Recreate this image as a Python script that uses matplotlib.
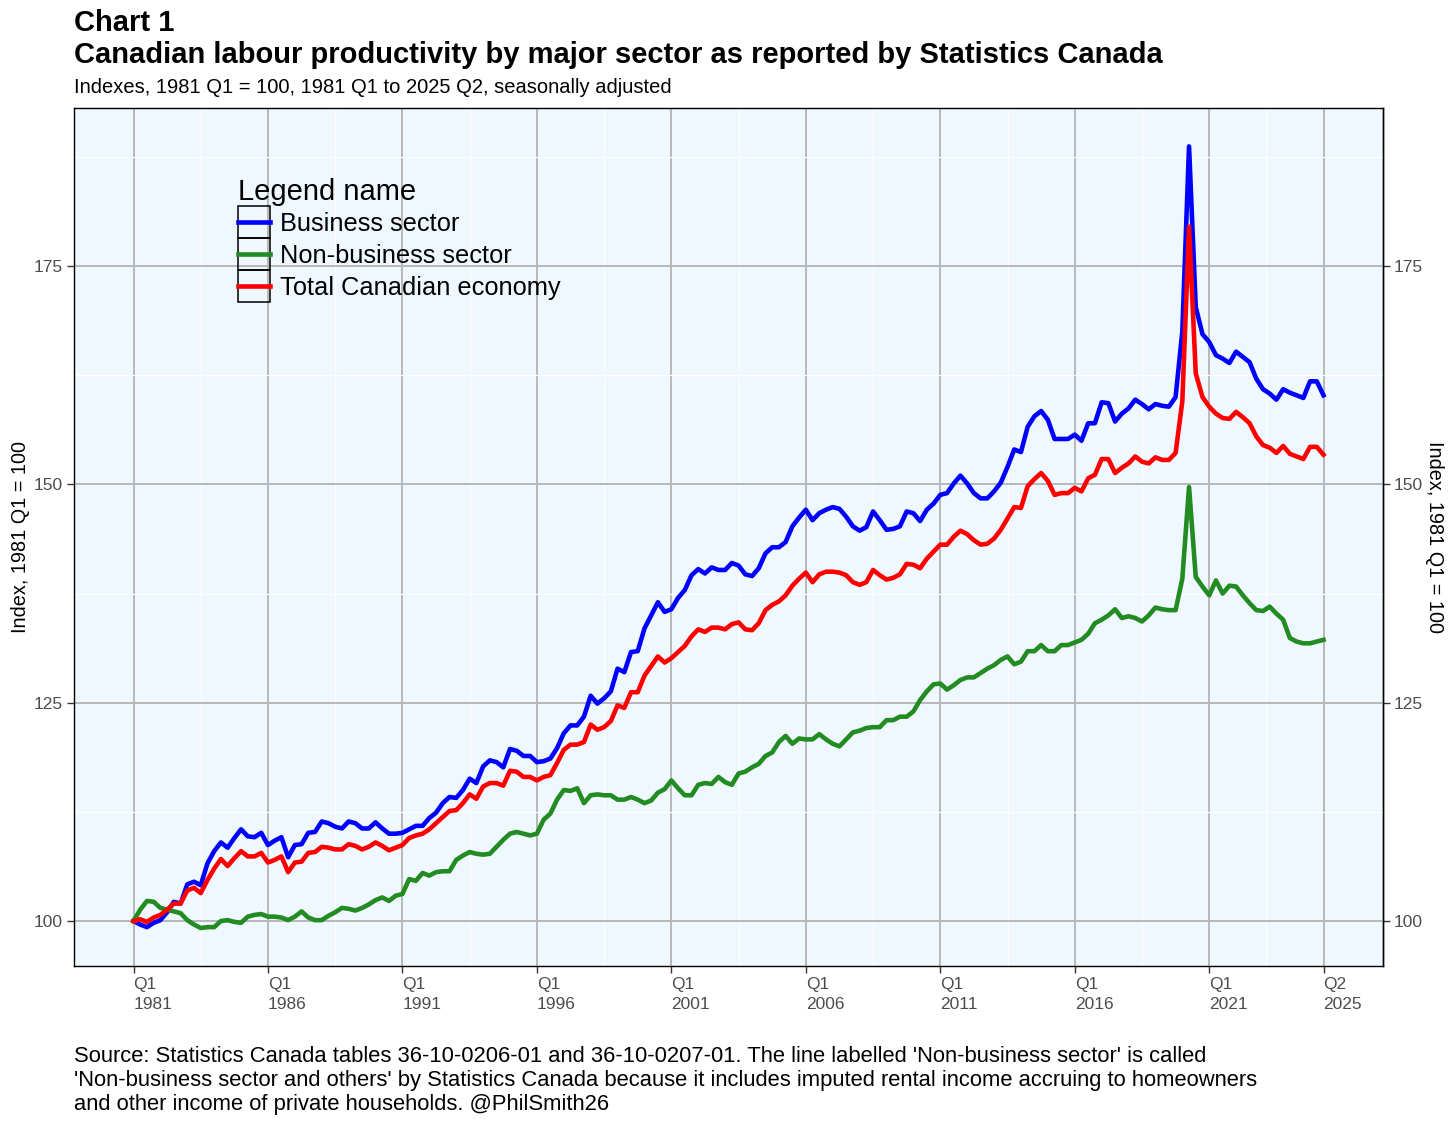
import numpy as np
import matplotlib.pyplot as plt
from matplotlib.legend_handler import HandlerLine2D
from matplotlib.patches import Rectangle

plt.rcParams['font.family'] = ['Liberation Sans', 'DejaVu Sans']

# quarterly index values, 1981 Q1 = 100 (1981 Q1 .. 2025 Q2)
quarters = [f'{y} Q{q}' for y in range(1981, 2026) for q in range(1, 5)][:178]

business = [
    100.0, 99.6, 99.3, 99.8, 100.1, 101.0, 102.2, 102.0, 104.2, 104.5,
    104.1, 106.6, 108.0, 109.0, 108.4, 109.5, 110.5, 109.7, 109.6, 110.1,
    108.7, 109.2, 109.6, 107.3, 108.7, 108.8, 110.1, 110.2, 111.4, 111.2,
    110.8, 110.6, 111.4, 111.2, 110.6, 110.6, 111.3, 110.6, 110.0, 110.0,
    110.1, 110.5, 110.9, 110.9, 111.8, 112.4, 113.5, 114.2, 114.1, 115.0,
    116.3, 115.8, 117.7, 118.4, 118.2, 117.6, 119.7, 119.5, 118.9, 118.9,
    118.2, 118.3, 118.6, 119.8, 121.5, 122.4, 122.4, 123.4, 125.8, 124.9,
    125.5, 126.3, 128.9, 128.5, 130.8, 130.9, 133.5, 135.0, 136.5, 135.4,
    135.7, 137.0, 137.9, 139.6, 140.3, 139.8, 140.5, 140.2, 140.2, 141.0,
    140.7, 139.7, 139.5, 140.4, 142.1, 142.8, 142.8, 143.4, 145.2, 146.2,
    147.1, 145.9, 146.7, 147.1, 147.4, 147.2, 146.3, 145.2, 144.7, 145.1,
    146.9, 145.9, 144.8, 144.9, 145.2, 146.9, 146.7, 145.8, 147.1, 147.8,
    148.8, 149.0, 150.1, 151.0, 150.1, 149.0, 148.4, 148.4, 149.2, 150.2,
    152.0, 154.0, 153.7, 156.6, 157.8, 158.4, 157.4, 155.2, 155.2, 155.2,
    155.7, 155.0, 157.0, 157.0, 159.4, 159.3, 157.2, 158.1, 158.7, 159.7,
    159.2, 158.6, 159.2, 159.0, 158.9, 160.0, 167.5, 188.7, 170.3, 167.2,
    166.3, 164.8, 164.4, 163.9, 165.2, 164.6, 164.0, 162.1, 160.9, 160.4,
    159.7, 160.9, 160.5, 160.2, 159.9, 161.8, 161.8, 160.2,
]

non_business = [
    100.0, 101.3, 102.3, 102.2, 101.5, 101.3, 101.1, 100.9, 100.1, 99.6,
    99.2, 99.3, 99.3, 100.0, 100.1, 99.9, 99.8, 100.5, 100.7, 100.8,
    100.5, 100.5, 100.4, 100.1, 100.5, 101.1, 100.4, 100.1, 100.1, 100.6,
    101.0, 101.5, 101.4, 101.2, 101.5, 101.9, 102.4, 102.7, 102.3, 102.9,
    103.1, 104.8, 104.6, 105.5, 105.2, 105.6, 105.7, 105.7, 107.0, 107.5,
    107.9, 107.7, 107.6, 107.7, 108.5, 109.3, 110.0, 110.2, 110.0, 109.8,
    110.0, 111.6, 112.3, 113.9, 115.0, 114.9, 115.2, 113.5, 114.4, 114.5,
    114.4, 114.4, 113.9, 113.9, 114.2, 113.9, 113.5, 113.8, 114.7, 115.1,
    116.1, 115.2, 114.4, 114.4, 115.6, 115.8, 115.7, 116.5, 115.9, 115.6,
    116.9, 117.1, 117.6, 118.0, 118.9, 119.3, 120.5, 121.2, 120.3, 120.9,
    120.8, 120.8, 121.4, 120.8, 120.3, 120.0, 120.8, 121.6, 121.8, 122.1,
    122.2, 122.2, 123.0, 123.0, 123.4, 123.4, 124.0, 125.3, 126.3, 127.1,
    127.2, 126.5, 127.0, 127.6, 127.9, 127.9, 128.4, 128.9, 129.3, 129.9,
    130.3, 129.4, 129.7, 130.9, 130.9, 131.6, 130.9, 130.9, 131.6, 131.6,
    131.9, 132.2, 132.9, 134.1, 134.5, 135.0, 135.7, 134.7, 134.9, 134.7,
    134.3, 135.0, 135.9, 135.7, 135.6, 135.6, 139.2, 149.7, 139.4, 138.3,
    137.3, 139.0, 137.5, 138.4, 138.3, 137.3, 136.4, 135.6, 135.5, 136.0,
    135.2, 134.5, 132.4, 132.0, 131.8, 131.8, 132.0, 132.2,
]

total = [
    100.0, 100.2, 99.9, 100.4, 100.7, 101.3, 102.0, 102.0, 103.5, 103.8,
    103.2, 104.7, 106.0, 107.1, 106.3, 107.2, 108.0, 107.4, 107.4, 107.8,
    106.7, 107.0, 107.4, 105.6, 106.7, 106.8, 107.8, 107.9, 108.5, 108.4,
    108.2, 108.2, 108.8, 108.6, 108.2, 108.5, 109.0, 108.6, 108.1, 108.4,
    108.7, 109.5, 109.8, 110.0, 110.5, 111.2, 111.9, 112.6, 112.7, 113.5,
    114.5, 114.0, 115.4, 115.8, 115.8, 115.5, 117.2, 117.1, 116.5, 116.5,
    116.1, 116.5, 116.7, 118.1, 119.6, 120.2, 120.2, 120.5, 122.5, 121.9,
    122.2, 122.9, 124.7, 124.4, 126.2, 126.2, 128.1, 129.2, 130.3, 129.6,
    130.1, 130.8, 131.5, 132.6, 133.4, 133.1, 133.6, 133.6, 133.4, 134.0,
    134.2, 133.4, 133.3, 134.1, 135.6, 136.2, 136.6, 137.3, 138.4, 139.2,
    139.9, 138.8, 139.7, 140.0, 140.0, 139.9, 139.6, 138.8, 138.5, 138.8,
    140.2, 139.6, 139.1, 139.3, 139.7, 140.9, 140.8, 140.4, 141.5, 142.3,
    143.1, 143.1, 144.0, 144.7, 144.3, 143.6, 143.1, 143.2, 143.8, 144.8,
    146.1, 147.4, 147.3, 149.8, 150.6, 151.3, 150.4, 148.8, 149.0, 149.0,
    149.6, 149.2, 150.7, 151.1, 152.9, 152.9, 151.3, 151.9, 152.4, 153.2,
    152.6, 152.4, 153.1, 152.8, 152.8, 153.6, 159.5, 179.5, 162.7, 160.0,
    158.9, 158.1, 157.6, 157.5, 158.3, 157.7, 157.0, 155.5, 154.5, 154.2,
    153.6, 154.4, 153.5, 153.2, 152.9, 154.3, 154.3, 153.4,
]

series_names = ['Business sector', 'Non-business sector', 'Total Canadian economy']
series_colors = ['#0000ff', '#228b22', '#ff0000']

tick_quarters = ['1981 Q1', '1986 Q1', '1991 Q1', '1996 Q1', '2001 Q1',
                 '2006 Q1', '2011 Q1', '2016 Q1', '2021 Q1', '2025 Q2']
tick_labels = ['Q1\n1981', 'Q1\n1986', 'Q1\n1991', 'Q1\n1996', 'Q1\n2001',
               'Q1\n2006', 'Q1\n2011', 'Q1\n2016', 'Q1\n2021', 'Q2\n2025']
y_ticks = [100, 125, 150, 175]

y_title = 'Index, 1981 Q1 = 100'
caption = ("Source: Statistics Canada tables 36-10-0206-01 and 36-10-0207-01. The line labelled "
           "'Non-business sector' is called\n'Non-business sector and others' by Statistics Canada "
           "because it includes imputed rental income accruing to homeowners\nand other income of "
           "private households. @PhilSmith26")


# legend key with a black box around the line, like ggplot keys
class BoxedLine(HandlerLine2D):
    def create_artists(self, legend, orig_handle, xdescent, ydescent,
                       width, height, fontsize, trans):
        arts = super().create_artists(legend, orig_handle, xdescent, ydescent,
                                      width, height, fontsize, trans)
        mid = height / 2 - ydescent
        for a in arts:
            a.set_ydata([mid] * len(a.get_xdata()))
        box = Rectangle((-xdescent, -ydescent), width, height, fc='none',
                        ec='black', lw=1.1, transform=trans)
        return [box] + list(arts)


x = np.arange(len(quarters))
tick_pos = [quarters.index(t) for t in tick_quarters]
minor_x = [(a + b) / 2 for a, b in zip(tick_pos[:-1], tick_pos[1:])]
minor_y = [(a + b) / 2 for a, b in zip(y_ticks[:-1], y_ticks[1:])] + [187.5]

W, H = 1456, 1125
fig = plt.figure(figsize=(W / 100, H / 100), dpi=100)
ax = fig.add_axes([74 / W, 1 - 966 / H, (1383 - 74) / W, (966 - 108) / H])
ax.set_facecolor('aliceblue')

lines = []
for vals, name, col in zip([business, non_business, total], series_names, series_colors):
    ln, = ax.plot(x, vals, color=col, lw=3.3, label=name, solid_joinstyle='round')
    lines.append(ln)

ax.set_xlim(-8.85, 177 + 8.85)
ax.set_ylim(94.85, 193.1)

ax.set_xticks(tick_pos)
ax.set_xticklabels(tick_labels)
ax.set_xticks(minor_x, minor=True)
ax.set_yticks(y_ticks)
ax.set_yticks(minor_y, minor=True)
for lbl in ax.get_xticklabels():
    lbl.set_ha('left')
    lbl.set_linespacing(1.4)

ax.grid(which='major', color='#b8b8b8', lw=1.4)
ax.grid(which='minor', color='white', lw=0.9)
ax.set_axisbelow(True)
ax.tick_params(which='major', labelsize=12.5, labelcolor='#4d4d4d', length=5,
               width=1, color='#333333', pad=3)
ax.tick_params(which='minor', length=0)
for sp in ax.spines.values():
    sp.set_color('black')
    sp.set_linewidth(1)

ax.set_ylabel(y_title, fontsize=14.3, labelpad=3)

sec = ax.secondary_yaxis('right')
sec.set_yticks(y_ticks)
sec.tick_params(labelsize=12.5, labelcolor='#4d4d4d', length=5, width=1,
                color='#333333', pad=3)
sec.spines['right'].set_linewidth(1)
sec.set_ylabel(y_title, fontsize=14.3, rotation=270, labelpad=15)

leg = ax.legend(handles=lines, title='Legend name', loc='upper left',
                bbox_to_anchor=(0.125, 0.918), frameon=False, fontsize=18.3,
                title_fontsize=21, handlelength=1.28, handleheight=1.56,
                labelspacing=0, handletextpad=0.4, borderpad=0, borderaxespad=0,
                alignment='left',
                handler_map={plt.Line2D: BoxedLine(marker_pad=0.12)})

fig.text(74 / W, 1 - 31 / H, 'Chart 1', fontsize=21, fontweight='bold', va='baseline')
fig.text(74 / W, 1 - 63 / H,
         'Canadian labour productivity by major sector as reported by Statistics Canada',
         fontsize=21, fontweight='bold', va='baseline')
fig.text(74 / W, 1 - 93 / H, 'Indexes, 1981 Q1 = 100, 1981 Q1 to 2025 Q2, seasonally adjusted',
         fontsize=14.5, va='baseline')
fig.text(74 / W, 1 - 1046 / H, caption, fontsize=15.8, va='top', linespacing=1.18)

fig.savefig('out.png', dpi=100)
